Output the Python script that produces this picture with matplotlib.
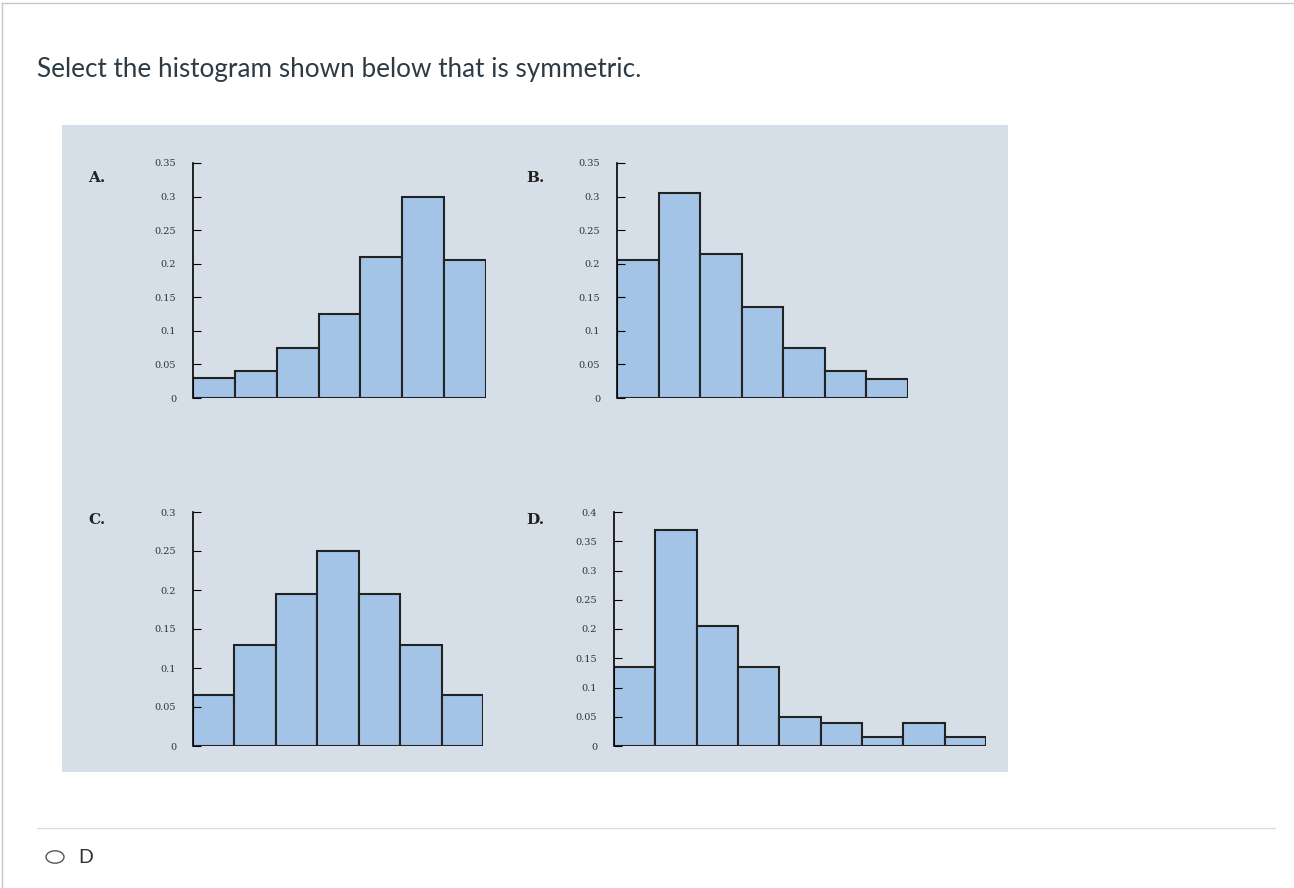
import matplotlib
matplotlib.use("Agg")
import matplotlib.pyplot as plt
from matplotlib.patches import Rectangle, Circle
from matplotlib.lines import Line2D

W, H = 1294, 888
a_vals = [0.03, 0.04, 0.075, 0.125, 0.21, 0.30, 0.205]
b_vals = [0.205, 0.305, 0.215, 0.135, 0.075, 0.04, 0.028]
c_vals = [0.065, 0.13, 0.195, 0.25, 0.195, 0.13, 0.065]
d_vals = [0.135, 0.37, 0.205, 0.135, 0.05, 0.04, 0.015, 0.04, 0.015]
ticks_035 = [0, 0.05, 0.1, 0.15, 0.2, 0.25, 0.3, 0.35]
labels_035 = ["0", "0.05", "0.1", "0.15", "0.2", "0.25", "0.3", "0.35"]
ticks_03 = [0, 0.05, 0.1, 0.15, 0.2, 0.25, 0.3]
labels_03 = ["0", "0.05", "0.1", "0.15", "0.2", "0.25", "0.3"]
ticks_04 = [0, 0.05, 0.1, 0.15, 0.2, 0.25, 0.3, 0.35, 0.4]
labels_04 = ["0", "0.05", "0.1", "0.15", "0.2", "0.25", "0.3", "0.35", "0.4"]

fig = plt.figure(figsize=(W/100, H/100), dpi=100)
fig.patch.set_facecolor("white")

def px(x0, y0, x1, y1):
    return [x0/W, 1-y1/H, (x1-x0)/W, (y1-y0)/H]

# gray panel as a background axes
bg = fig.add_axes(px(62, 125, 1008, 772), zorder=-5)
bg.set_facecolor("#d6dfe7")
bg.set_xticks([]); bg.set_yticks([])
for s in bg.spines.values():
    s.set_visible(False)

fig.lines.append(Line2D([2/W, 1], [1-3/H, 1-3/H], transform=fig.transFigure, color="#c8c8c8", lw=1))
fig.lines.append(Line2D([2/W, 2/W], [0, 1-3/H], transform=fig.transFigure, color="#c8c8c8", lw=1))
fig.lines.append(Line2D([37/W, 1275/W], [1-828/H, 1-828/H], transform=fig.transFigure, color="#dddddd", lw=1))
fig.patches.append(Circle((55/W, 1-857/H), 9/W, transform=fig.transFigure, facecolor="white",
                          edgecolor="#555555", lw=1))
fig.text(78/W, 1-857/H, "D", fontsize=14, va="center", color="#333333", family="Lato")
fig.text(37/W, 1-70/H, "Select the histogram shown below that is symmetric.", fontsize=18.8,
         va="center", color="#2d3b45", family="Lato")

def hist(rect, vals, ymax, ticks, labels, letter, lx, ly):
    ax = fig.add_axes(rect)
    ax.set_facecolor("none")
    ax.bar(range(len(vals)), vals, width=1.0, align="edge", color="#a3c4e6",
           edgecolor="#222222", linewidth=1.5)
    ax.set_xlim(0, len(vals))
    ax.set_ylim(0, ymax)
    for s in ["top", "right", "bottom"]:
        ax.spines[s].set_visible(False)
    ax.spines["left"].set_linewidth(1.2)
    ax.set_xticks([])
    ax.set_yticks(ticks)
    ax.set_yticklabels(labels, fontsize=7, family="DejaVu Serif", color="#333333")
    ax.tick_params(axis="y", direction="in", length=6, pad=12)
    fig.text(lx/W, 1-ly/H, letter, fontsize=11, fontweight="bold", family="DejaVu Serif",
             va="center", color="#222222")

hist(px(193, 163, 486, 398), a_vals, 0.35, ticks_035, labels_035, "A.", 88, 178)
hist(px(617, 163, 908, 398), b_vals, 0.35, ticks_035, labels_035, "B.", 526, 178)
hist(px(193, 512, 483, 746), c_vals, 0.3, ticks_03, labels_03, "C.", 88, 520)
hist(px(614, 512, 986, 746), d_vals, 0.4, ticks_04, labels_04, "D.", 526, 520)

fig.savefig("out.png", dpi=100)
